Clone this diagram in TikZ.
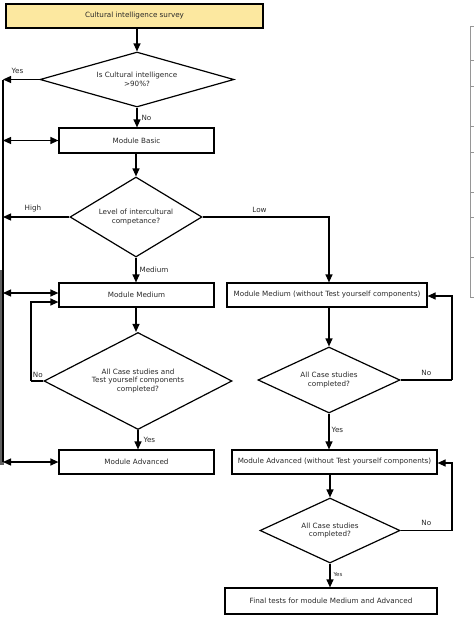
\documentclass[tikz,border=0pt]{standalone}
\usepackage{fontspec}
\setmainfont{DejaVu Sans}
\usetikzlibrary{shapes.geometric,arrows.meta}
\definecolor{survey}{RGB}{252,232,160}
\definecolor{tablegray}{RGB}{150,150,150}
\definecolor{ink}{RGB}{40,40,40}
\tikzset{
  box/.style={draw, line width=1.2pt, inner sep=0pt, text=ink, font=\fontsize{7.2}{8.6}\selectfont, align=center},
  decision/.style={diamond, draw, line width=1.2pt, inner sep=0pt, text=ink, font=\fontsize{7.2}{8.6}\selectfont, align=center},
  flow/.style={line width=1.2pt, -{Triangle[length=8pt,width=7pt]}},
  bothway/.style={line width=1.2pt, {Triangle[length=8pt,width=7pt]}-{Triangle[length=8pt,width=7pt]}},
  wire/.style={line width=1.2pt},
  lbl/.style={font=\fontsize{7.2}{8.6}\selectfont, text=ink, inner sep=0pt},
}
\begin{document}
\begin{tikzpicture}[x=1pt,y=-1pt]
\useasboundingbox (0,0) rectangle (474,619);
% background artefacts
\fill[gray!75!black] (0,270) rectangle (3.5,465);
\draw[tablegray, line width=0.8pt] (470,26) -- (470,297);
\foreach \t in {26,60,86,126,152,192,217,257,297} \draw[tablegray, line width=0.6pt] (470,\t) -- (474,\t);

% nodes
\node[box, fill=survey, minimum width=257pt, minimum height=24pt] (survey) at (134.5,16) {Cultural intelligence survey};
\node[decision, minimum width=194pt, minimum height=55pt, aspect=3.5] (d1) at (137,79.5) {Is Cultural intelligence\\>90\%?};
\node[box, minimum width=155pt, minimum height=25pt] (basic) at (136.5,140.5) {Module Basic};
\node[decision, minimum width=132pt, minimum height=80pt, aspect=1.65] (d2) at (136,217) {Level of intercultural\\competance?};
\node[box, minimum width=155pt, minimum height=24pt] (medium) at (136.5,295) {Module Medium};
\node[box, minimum width=200pt, minimum height=24pt] (medium2) at (327,295) {Module Medium (without Test yourself components)};
\node[decision, minimum width=188pt, minimum height=97pt, aspect=1.94] (d3) at (138,381) {All Case studies and\\Test yourself components\\completed?};
\node[box, minimum width=155pt, minimum height=24pt] (advanced) at (136.5,462) {Module Advanced};
\node[decision, minimum width=142pt, minimum height=66pt, aspect=2.15] (d4) at (329,380) {All Case studies\\completed?};
\node[box, minimum width=205pt, minimum height=24pt] (advanced2) at (334.5,462) {Module Advanced (without Test yourself components)};
\node[decision, minimum width=140pt, minimum height=65pt, aspect=2.15] (d5) at (330,530.5) {All Case studies\\completed?};
\node[box, minimum width=212pt, minimum height=26pt] (final) at (331,601) {Final tests for module Medium and Advanced};

% coordinates for left spine and right loops
\coordinate (spineTop) at (3,79.5);
\coordinate (spineBot) at (3,462);
\coordinate (loopL) at (31,381);
\coordinate (loopR1) at (452,380);
\coordinate (loopR2) at (452,530.5);

% left spine
\draw[wire] (spineTop) -- (spineBot);

% main column
\draw[flow] (survey.south -| d1.north) -- (d1.north);
\draw[flow] (d1.west) -- (spineTop) node[lbl, pos=0.6, above=5pt] {Yes};
\draw[flow] (d1.south) -- (d1.south |- basic.north) node[lbl, midway, right=4pt] {No};
\draw[bothway] (3,140.5) -- (basic.west);
\draw[flow] (d2.north |- basic.south) -- (d2.north);
\draw[flow] (d2.west) -- (3,217) node[lbl, pos=0.55, above=4pt] {High};
\draw[flow] (d2.south) -- (d2.south |- medium.north) node[lbl, midway, right=3pt] {Medium};
\draw[flow] (d2.east) -- (d4.north |- d2.east) node[lbl, pos=0.45, above=4pt] {Low} -- (d4.north |- medium2.north);
\draw[bothway] (3,293) -- (medium.west |- 0,293);
\draw[flow] (medium.south -| d2.south) -- (d3.north -| d2.south);
\draw[wire] (d3.west) -- (loopL) node[lbl, pos=0.45, above=3pt] {No};
\draw[flow] (loopL) -- (31,302) -- (medium.west |- 0,302);
\draw[flow] (d3.south) -- (d3.south |- advanced.north) node[lbl, midway, right=5pt] {Yes};
\draw[bothway] (3,462) -- (advanced.west);

% right column
\draw[flow] (d4.north |- medium2.south) -- (d4.north);
\draw[wire] (d4.east) -- (loopR1) node[lbl, pos=0.5, above=4pt] {No};
\draw[flow] (loopR1) -- (452,296) -- (medium2.east |- 0,296);
\draw[flow] (d4.south) -- (d4.south |- advanced2.north) node[lbl, pos=0.45, right=2pt] {Yes};
\draw[flow] (d5.north |- advanced2.south) -- (d5.north);
\draw[wire] (d5.east) -- (loopR2) node[lbl, pos=0.5, above=4pt] {No};
\draw[flow] (loopR2) -- (452,463) -- (advanced2.east |- 0,463);
\draw[flow] (d5.south) -- (d5.south |- final.north) node[lbl, pos=0.45, right=3pt, font=\fontsize{5.5}{6.5}\selectfont] {Yes};
\end{tikzpicture}
\end{document}
